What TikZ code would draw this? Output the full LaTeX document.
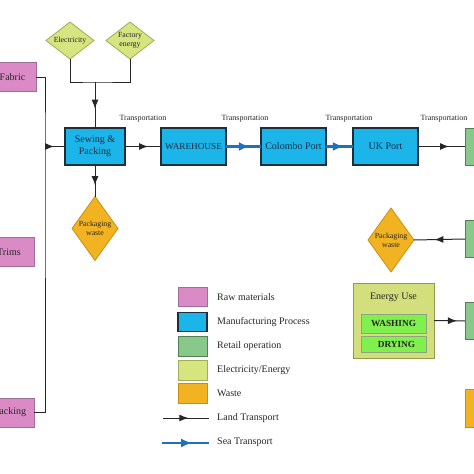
\documentclass[tikz,border=0pt]{standalone}
\usepackage{fontspec}
\setmainfont{Liberation Serif}
\usetikzlibrary{shapes.geometric,arrows.meta,decorations.markings}
\definecolor{pinkF}{HTML}{DA8BC6}
\definecolor{pinkD}{HTML}{9E6E96}
\definecolor{blueF}{HTML}{1BB5EA}
\definecolor{blueD}{HTML}{1B2E3A}
\definecolor{greenF}{HTML}{88C98B}
\definecolor{greenD}{HTML}{4F7F52}
\definecolor{ylwF}{HTML}{D6E57F}
\definecolor{ylwD}{HTML}{9DAE56}
\definecolor{orgF}{HTML}{F2B322}
\definecolor{orgD}{HTML}{C98F12}
\definecolor{engF}{HTML}{D2DF7C}
\definecolor{engD}{HTML}{8F9C4E}
\definecolor{washF}{HTML}{7FF04E}
\definecolor{washD}{HTML}{8DA57A}
\definecolor{seaC}{HTML}{2070C0}
\definecolor{txtB}{HTML}{1C2A44}
\definecolor{txtG}{HTML}{262626}
\tikzset{
  box/.style={draw, rectangle, inner sep=0pt, outer sep=0pt, align=center},
  manuf/.style={box, fill=blueF, draw=blueD, line width=1.3pt, text=txtB,
    font=\fontsize{10}{11.5}\selectfont, minimum width=65pt, minimum height=37pt},
  raw/.style={box, fill=pinkF, draw=pinkD, line width=0.8pt, text=txtG,
    font=\fontsize{10}{11}\selectfont, minimum height=29pt},
  retail/.style={box, fill=greenF, draw=greenD, line width=0.8pt, minimum width=40pt, minimum height=37pt},
  wastebox/.style={box, fill=orgF, draw=orgD, line width=0.8pt, minimum width=40pt, minimum height=38pt},
  elec/.style={diamond, draw=ylwD, fill=ylwF, line width=0.8pt, inner sep=0pt, outer sep=0pt,
    aspect=1.3, minimum width=48pt, minimum height=37pt, align=center, text=txtG,
    font=\fontsize{7.8}{8.8}\selectfont},
  wastedia/.style={diamond, draw=orgD, fill=orgF, line width=0.8pt, inner sep=0pt, outer sep=0pt,
    aspect=0.72, minimum width=46pt, minimum height=64pt, align=center, text=txtG,
    font=\fontsize{7.8}{8.8}\selectfont},
  translabel/.style={font=\fontsize{8}{9}\selectfont, text=txtG, inner sep=0pt},
  legtext/.style={font=\fontsize{10}{11}\selectfont, text=txtG, inner sep=0pt, anchor=west},
  swatch/.style={box, minimum width=29pt, minimum height=19.5pt, line width=0.8pt},
  conn/.style={draw=black!85, line width=1pt},
  sea/.style={draw=seaC, line width=2.5pt},
  midarrow/.style={postaction={decorate}, decoration={markings,
    mark=at position #1 with {\arrow{Latex[length=9pt,width=7pt]}}}},
  midarrow/.default=0.6,
  seaarrow/.style={postaction={decorate}, decoration={markings,
    mark=at position #1 with {\arrow[seaC]{Latex[length=11pt,width=9pt]}}}},
  seaarrow/.default=0.6,
}
\begin{document}
\begin{tikzpicture}[x=1pt,y=-1pt]
\useasboundingbox (0,0) rectangle (474,474);
\clip (0,0) rectangle (474,474);
\fill[white] (0,0) rectangle (474,474);

% raw materials
\node[raw, minimum width=47pt] (fabric) at (12.5,77) {Fabric};
\node[raw, minimum width=50pt] (trims) at (9,252) {Trims};
\node[raw, minimum width=48pt] (packing) at (10,412.5) {Packing};

% energy diamonds
\node[elec] (elecd) at (70,40.5) {Electricity};
\node[elec] (factd) at (130,40.5) {Factory\\energy};
\coordinate (jn) at (95,82);
\coordinate (bus) at (45,146.5);

% main chain
\node[manuf] (sew) at (95,146.5) [minimum width=60pt] {Sewing \&\\Packing};
\node[manuf, font=\fontsize{9.2}{11}\selectfont] (ware) at (193.5,146.5) {WAREHOUSE};
\node[manuf] (colombo) at (293.5,146.5) {Colombo Port};
\node[manuf] (uk) at (385.5,146.5) {UK Port};
\node[retail] (ret1) at (485,146.5) {};

\node[wastedia] (pw1) at (95,228.5) {Packaging\\waste};
\node[retail] (ret2) at (485,239) {};
\node[wastedia] (pw2) at (391,240) {Packaging\\waste};

% energy use
\node[box, fill=engF, draw=engD, line width=1pt, minimum width=81pt, minimum height=75pt] (energy) at (393.5,320.5) {};
\node[font=\fontsize{10}{11}\selectfont, text=txtG, inner sep=0pt] (enlabel) at (393.5,297.5) {Energy Use};
\node[box, fill=washF, draw=washD, line width=0.8pt, minimum width=65pt, minimum height=19pt,
  font=\bfseries\fontsize{9.3}{10}\selectfont, text=txtG] (wash) at (393.5,323.5) {WASHING};
\node[box, fill=washF, draw=washD, line width=0.8pt, minimum width=65pt, minimum height=16pt,
  font=\bfseries\fontsize{9.3}{10}\selectfont, text=txtG] (dry) at (393.5,344) {\hspace{6pt}DRYING};
\node[retail] (ret3) at (485,321) {};
\node[wastebox] (wb) at (485,408) {};

% connectors
\draw[conn] (elecd.south) |- (jn) -| (factd.south);
\draw[conn, midarrow=0.58] (jn) -- (sew.north);
\draw[conn] (fabric.east) -| (bus) |- (packing.east);
\draw[conn, midarrow=0.45] (bus) -- (sew.west);
\draw[conn, midarrow=0.64] (sew.south) -- (pw1.north);
\draw[conn, midarrow=0.64] (sew.east) -- (ware.west);
\draw[sea, seaarrow=0.68] (ware.east) -- (colombo.west);
\draw[sea, seaarrow=0.66] (colombo.east) -- (uk.west);
\draw[conn, midarrow=0.66] (uk.east) -- (ret1.west);
\draw[conn, midarrow=0.6] (ret2.west) -- (pw2.east);
\draw[conn, midarrow=0.74] (energy.east) -- (ret3.west);

% transport labels
\node[translabel] (t1) at (143,119) {Transportation};
\node[translabel] (t2) at (245,119) {Transportation};
\node[translabel] (t3) at (349,119) {Transportation};
\node[translabel] (t4) at (444,119) {Transportation};

% legend
\node[swatch, fill=pinkF, draw=pinkD] (l1) at (192.5,297) {};
\node[legtext] (l1t) at (217,297) {Raw materials};
\node[swatch, fill=blueF, draw=blueD, line width=1.3pt] (l2) at (192.5,322) {};
\node[legtext] (l2t) at (217,322) {Manufacturing Process};
\node[swatch, fill=greenF, draw=greenD] (l3) at (192.5,346.5) {};
\node[legtext] (l3t) at (217,346) {Retail operation};
\node[swatch, fill=ylwF, draw=ylwD] (l4) at (192.5,370.5) {};
\node[legtext] (l4t) at (217,370) {Electricity/Energy};
\node[swatch, fill=orgF, draw=orgD] (l5) at (192.5,393.5) {};
\node[legtext] (l5t) at (217,393) {Waste};
\coordinate (la) at (163,418);
\coordinate (lb) at (209,418);
\draw[conn, midarrow=0.55] (la) -- (lb);
\node[legtext] (l6t) at (217,418) {Land Transport};
\coordinate (sa) at (162,443);
\coordinate (sb) at (209,443);
\draw[sea, seaarrow=0.64] (sa) -- (sb);
\node[legtext] (l7t) at (217,442) {Sea Transport};
\end{tikzpicture}
\end{document}
